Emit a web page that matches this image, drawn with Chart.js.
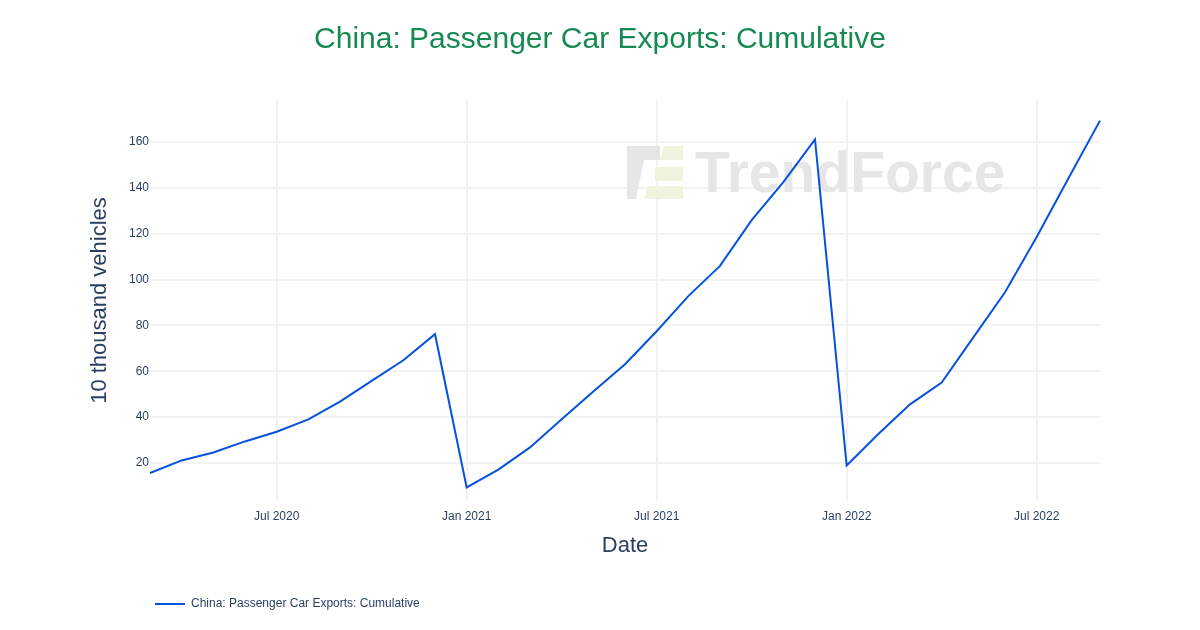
<!DOCTYPE html>
<html>
<head>
<meta charset="utf-8">
<script src="https://cdn.jsdelivr.net/npm/chart.js@4/dist/chart.umd.min.js"></script>
<style>
  html, body { margin: 0; padding: 0; background: #fff; }
  #wrap { width: 1200px; height: 630px; }
</style>
</head>
<body>
<div id="wrap"><canvas id="chart" width="1200" height="630"></canvas></div>
<script>
const months = [
    '2020-03', '2020-04', '2020-05', '2020-06', '2020-07', '2020-08', '2020-09', '2020-10', '2020-11', '2020-12',
    '2021-01', '2021-02', '2021-03', '2021-04', '2021-05', '2021-06', '2021-07', '2021-08', '2021-09', '2021-10', '2021-11', '2021-12',
    '2022-01', '2022-02', '2022-03', '2022-04', '2022-05', '2022-06', '2022-07', '2022-08', '2022-09'
];
const exportsCumulative = [
    15.6, 21.1, 24.6, 29.4, 33.6, 39.0, 46.8, 55.8, 64.8, 76.2,
    9.3, 17.1, 26.8, 39.1, 51.2, 63.1, 77.5, 92.8, 106.0, 126.0, 142.6, 161.2,
    18.9, 32.6, 45.6, 55.1, 74.8, 94.5, 118.6, 144.1, 169.4
];
const yTicks = [20, 40, 60, 80, 100, 120, 140, 160];
const monthNames = ['Jan', 'Feb', 'Mar', 'Apr', 'May', 'Jun', 'Jul', 'Aug', 'Sep', 'Oct', 'Nov', 'Dec'];

const lineColor = '#0652dd';
const textColor = '#2a3f5f';
const gridColor = '#f2f2f2';

function isMajor(i) {
    const m = months[i].slice(5);
    return m === '01' || m === '07';
}
function monthLabel(i) {
    const [y, m] = months[i].split('-');
    return monthNames[parseInt(m, 10) - 1] + ' ' + y;
}

// faint TrendForce watermark behind the line
const watermark = {
    id: 'watermark',
    beforeDatasetsDraw(chart) {
        const ctx = chart.ctx;
        ctx.save();
        // logo
        ctx.fillStyle = '#e6e6e6';
        ctx.beginPath();
        ctx.moveTo(627, 146); ctx.lineTo(660, 146); ctx.lineTo(660, 160);
        ctx.lineTo(644, 160); ctx.lineTo(636, 199); ctx.lineTo(627, 199);
        ctx.closePath();
        ctx.fill();
        ctx.fillStyle = '#eef4de';
        ctx.beginPath();
        ctx.moveTo(664, 146); ctx.lineTo(683, 146); ctx.lineTo(683, 160); ctx.lineTo(660, 160);
        ctx.closePath(); ctx.fill();
        ctx.fillRect(655, 167, 28, 14);
        ctx.beginPath();
        ctx.moveTo(648, 186); ctx.lineTo(683, 186); ctx.lineTo(683, 199); ctx.lineTo(644, 199);
        ctx.closePath(); ctx.fill();
        // wordmark
        ctx.fillStyle = '#e6e6e6';
        ctx.font = 'bold 57px "Liberation Sans"';
        ctx.textBaseline = 'alphabetic';
        ctx.textAlign = 'left';
        ctx.fillText('TrendForce', 695, 192);
        ctx.restore();
    }
};

const ctx = document.getElementById('chart').getContext('2d');
new Chart(ctx, {
    type: 'line',
    data: {
        labels: months,
        datasets: [{
            label: 'China: Passenger Car Exports: Cumulative',
            data: exportsCumulative,
            borderColor: lineColor,
            backgroundColor: lineColor,
            borderWidth: 2,
            pointRadius: 0,
            tension: 0
        }]
    },
    options: {
        responsive: false,
        animation: false,
        layout: { padding: { left: 100, right: 100, top: 22, bottom: 10 } },
        font: { family: '"Liberation Sans", Arial, sans-serif' },
        plugins: {
            title: {
                display: true,
                text: 'China: Passenger Car Exports: Cumulative',
                color: '#168a52',
                font: { size: 30, weight: 'normal', family: '"Liberation Sans", Arial, sans-serif' },
                padding: { top: 0, bottom: 42 }
            },
            legend: {
                position: 'bottom',
                align: 'start',
                fullSize: false,
                labels: {
                    color: textColor,
                    font: { size: 12, family: '"Liberation Sans", Arial, sans-serif' },
                    usePointStyle: true,
                    pointStyle: 'line',
                    pointStyleWidth: 30,
                    padding: 5
                }
            },
            tooltip: { enabled: false }
        },
        scales: {
            x: {
                type: 'category',
                offset: false,
                grid: {
                    drawTicks: false,
                    color: c => (c.index !== undefined && isMajor(c.index)) ? gridColor : 'rgba(0,0,0,0)',
                    lineWidth: 2
                },
                border: { display: false },
                ticks: {
                    autoSkip: false,
                    maxRotation: 0,
                    padding: 8,
                    color: textColor,
                    font: { size: 12 },
                    callback: (v, i) => isMajor(i) ? monthLabel(i) : ''
                },
                title: {
                    display: true,
                    text: 'Date',
                    color: textColor,
                    font: { size: 22 },
                    padding: { top: 4, bottom: 34 }
                },
                afterFit: s => { s.height = 92; }
            },
            y: {
                min: 3.4,
                max: 178.4,
                grid: { drawTicks: false, color: gridColor, lineWidth: 2 },
                border: { display: false },
                afterBuildTicks: s => { s.ticks = yTicks.map(v => ({ value: v })); },
                ticks: {
                    padding: 1,
                    color: textColor,
                    font: { size: 12 },
                    includeBounds: false
                },
                title: {
                    display: true,
                    text: '10 thousand vehicles',
                    color: textColor,
                    font: { size: 22 },
                    padding: { top: -13, bottom: 4 }
                },
                afterFit: s => { s.width = 50; }
            }
        }
    },
    plugins: [watermark]
});
</script>
</body>
</html>
